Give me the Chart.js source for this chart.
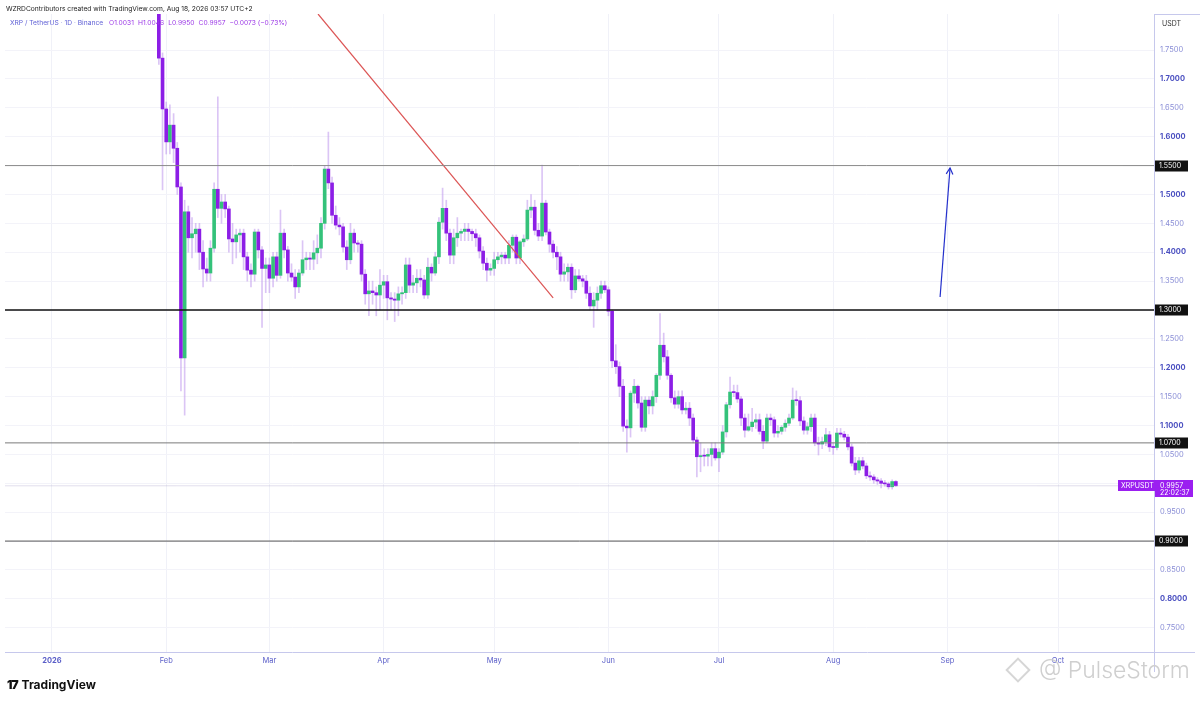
<!DOCTYPE html>
<html>
<head>
<meta charset="utf-8">
<script src="https://cdn.jsdelivr.net/npm/chart.js@4.4.1/dist/chart.umd.min.js"></script>
<style>
  html, body { margin: 0; padding: 0; background: #fff; }
  #wrap { position: relative; width: 1200px; height: 702px; font-family: Inter, "Open Sans", sans-serif; }
  #chart { position: absolute; left: 0; top: 0; }
  .txt { position: absolute; white-space: nowrap; pointer-events: none; }
  #hdr1 { left: 6px; top: 5px; font-size: 6.7px; color: #222; }
  #hdr2 { left: 10px; top: 19px; font-size: 6.7px; color: #6162d6; }
  #hdr2 span { color: #9a36e6; margin-left: 4px; }
  #unit { left: 1162px; top: 19px; font-size: 7px; color: #333; }
  #tvlogo { left: 7px; top: 677px; font-size: 12px; font-weight: 700; color: #111; }
  #tvlogo b { font-size: 12px; font-weight: 900; letter-spacing: -1px; margin-right: 4px; }
  #mark { left: 1003px; top: 656px; font-size: 23px; font-weight: 300; color: #cfcfcf; }
  #mark i { display: inline-block; width: 14px; height: 14px; border: 2px solid #d6d6d6; transform: rotate(45deg); margin: 0 12px 0 6px; vertical-align: -1px; }
</style>
</head>
<body>
<div id="wrap">
  <canvas id="chart" width="1200" height="702"></canvas>
  <div class="txt" id="hdr1">WZRDContributors created with TradingView.com, Aug 18, 2026 03:57 UTC+2</div>
  <div class="txt" id="hdr2">XRP / TetherUS · 1D · Binance <span>O1.0031</span><span>H1.0046</span><span>L0.9950</span><span>C0.9957</span><span>−0.0073 (−0.73%)</span></div>
  <div class="txt" id="unit">USDT</div>
  <div class="txt" id="tvlogo"><b>17</b>TradingView</div>
  <div class="txt" id="mark"><i></i>@ PulseStorm</div>
</div>
<script>
// daily candles, first one on Jan 30 2026 (day 29 counted from Jan 1)
const startDay = 29;

const opens = [
  1.825,1.736,1.648,1.591,1.620,1.580,1.513,1.217,1.470,1.425,
  1.432,1.440,1.400,1.371,1.364,1.407,1.509,1.476,1.487,1.475,
  1.423,1.418,1.430,1.433,1.392,1.369,1.362,1.435,1.404,1.372,
  1.378,1.355,1.392,1.360,1.433,1.404,1.364,1.357,1.340,1.364,
  1.387,1.390,1.388,1.399,1.407,1.450,1.544,1.520,1.464,1.447,
  1.444,1.409,1.387,1.433,1.416,1.414,1.362,1.328,1.333,1.330,
  1.326,1.343,1.349,1.321,1.319,1.317,1.328,1.330,1.378,1.343,
  1.347,1.355,1.352,1.326,1.374,1.364,1.392,1.452,1.476,1.433,
  1.395,1.425,1.433,1.436,1.440,1.436,1.432,1.425,1.402,1.381,
  1.369,1.372,1.387,1.392,1.395,1.390,1.412,1.426,1.390,1.418,
  1.423,1.473,1.478,1.438,1.428,1.485,1.435,1.414,1.400,1.392,
  1.362,1.366,1.374,1.335,1.359,1.354,1.350,1.329,1.307,1.317,
  1.329,1.342,1.335,1.298,1.212,1.202,1.168,1.099,1.096,1.156,
  1.168,1.139,1.097,1.144,1.134,1.150,1.187,1.239,1.219,1.187,
  1.148,1.137,1.150,1.127,1.130,1.113,1.075,1.046,1.048,1.047,
  1.050,1.060,1.044,1.054,1.089,1.136,1.158,1.157,1.146,1.113,
  1.092,1.098,1.106,1.110,1.090,1.073,1.113,1.110,1.087,1.090,
  1.097,1.104,1.113,1.144,1.143,1.108,1.092,1.098,1.113,1.070,
  1.068,1.072,1.084,1.063,1.062,1.087,1.085,1.080,1.063,1.035,
  1.023,1.039,1.030,1.013,1.011,1.006,1.004,1.000,0.999,0.994,
  1.0031
];
const highs = [
  1.860,1.745,1.660,1.655,1.640,1.590,1.520,1.490,1.480,1.460,
  1.450,1.450,1.420,1.390,1.420,1.520,1.669,1.500,1.500,1.480,
  1.450,1.440,1.440,1.440,1.400,1.380,1.440,1.440,1.410,1.390,
  1.390,1.400,1.400,1.473,1.440,1.410,1.380,1.370,1.370,1.420,
  1.400,1.400,1.420,1.430,1.460,1.550,1.608,1.530,1.480,1.460,
  1.450,1.420,1.450,1.440,1.420,1.420,1.370,1.350,1.350,1.340,
  1.370,1.360,1.360,1.330,1.330,1.340,1.340,1.390,1.390,1.360,
  1.370,1.370,1.360,1.390,1.380,1.400,1.460,1.511,1.490,1.440,
  1.440,1.460,1.440,1.450,1.450,1.440,1.440,1.430,1.410,1.390,
  1.380,1.400,1.400,1.400,1.400,1.420,1.430,1.430,1.420,1.430,
  1.490,1.500,1.490,1.450,1.551,1.490,1.440,1.420,1.410,1.400,
  1.380,1.380,1.380,1.370,1.370,1.360,1.360,1.340,1.330,1.340,
  1.350,1.350,1.340,1.300,1.240,1.210,1.180,1.110,1.160,1.180,
  1.170,1.150,1.150,1.150,1.160,1.190,1.294,1.260,1.230,1.190,
  1.160,1.160,1.160,1.140,1.140,1.120,1.080,1.070,1.060,1.060,
  1.070,1.070,1.060,1.100,1.140,1.184,1.170,1.170,1.150,1.120,
  1.120,1.130,1.120,1.120,1.100,1.120,1.120,1.115,1.100,1.100,
  1.110,1.120,1.165,1.160,1.150,1.115,1.105,1.120,1.120,1.080,
  1.080,1.095,1.090,1.070,1.095,1.095,1.090,1.085,1.068,1.045,
  1.045,1.045,1.035,1.020,1.015,1.010,1.008,1.005,1.002,1.006,
  1.0046
];
const lows = [
  1.725,1.508,1.570,1.570,1.555,1.500,1.160,1.118,1.400,1.390,
  1.400,1.370,1.340,1.350,1.350,1.400,1.460,1.450,1.460,1.400,
  1.380,1.390,1.400,1.370,1.350,1.340,1.350,1.390,1.270,1.330,
  1.330,1.340,1.350,1.355,1.390,1.350,1.350,1.320,1.330,1.360,
  1.370,1.370,1.370,1.380,1.390,1.440,1.510,1.450,1.440,1.430,
  1.400,1.370,1.380,1.400,1.400,1.350,1.310,1.290,1.310,1.290,
  1.300,1.320,1.283,1.300,1.280,1.290,1.310,1.320,1.330,1.330,
  1.330,1.340,1.320,1.320,1.350,1.360,1.380,1.440,1.420,1.380,
  1.380,1.410,1.420,1.420,1.420,1.420,1.410,1.390,1.370,1.350,
  1.360,1.360,1.380,1.380,1.380,1.380,1.400,1.380,1.380,1.410,
  1.420,1.460,1.430,1.420,1.420,1.430,1.400,1.390,1.370,1.350,
  1.350,1.350,1.320,1.330,1.350,1.340,1.320,1.300,1.270,1.300,
  1.320,1.330,1.290,1.200,1.190,1.150,1.090,1.054,1.080,1.140,
  1.130,1.090,1.090,1.120,1.120,1.140,1.180,1.210,1.180,1.140,
  1.130,1.130,1.120,1.120,1.100,1.070,1.011,1.020,1.030,1.030,
  1.030,1.040,1.020,1.050,1.080,1.130,1.150,1.140,1.100,1.080,
  1.090,1.090,1.095,1.085,1.060,1.070,1.100,1.080,1.080,1.085,
  1.090,1.100,1.110,1.135,1.100,1.085,1.085,1.090,1.065,1.049,
  1.060,1.065,1.055,1.050,1.058,1.080,1.075,1.058,1.030,1.015,
  1.018,1.025,1.008,1.005,1.000,0.998,0.992,0.995,0.990,0.990,
  0.9950
];
const closes = [
  1.736,1.648,1.591,1.620,1.580,1.513,1.217,1.470,1.425,1.432,
  1.440,1.400,1.371,1.364,1.407,1.509,1.476,1.487,1.475,1.423,
  1.418,1.430,1.433,1.392,1.369,1.362,1.435,1.404,1.372,1.378,
  1.355,1.392,1.360,1.433,1.404,1.364,1.357,1.340,1.364,1.387,
  1.390,1.388,1.399,1.407,1.450,1.544,1.520,1.464,1.447,1.444,
  1.409,1.387,1.433,1.416,1.414,1.362,1.328,1.333,1.330,1.326,
  1.343,1.349,1.321,1.319,1.317,1.328,1.330,1.378,1.343,1.347,
  1.355,1.352,1.326,1.374,1.364,1.392,1.452,1.476,1.433,1.395,
  1.425,1.433,1.436,1.440,1.436,1.432,1.425,1.402,1.381,1.369,
  1.372,1.387,1.392,1.395,1.390,1.412,1.426,1.390,1.418,1.423,
  1.473,1.478,1.438,1.428,1.485,1.435,1.414,1.400,1.392,1.362,
  1.366,1.374,1.335,1.359,1.354,1.350,1.329,1.307,1.317,1.329,
  1.342,1.335,1.298,1.212,1.202,1.168,1.099,1.096,1.156,1.168,
  1.139,1.097,1.144,1.134,1.150,1.187,1.239,1.219,1.187,1.148,
  1.137,1.150,1.127,1.130,1.113,1.075,1.046,1.048,1.047,1.050,
  1.060,1.044,1.054,1.089,1.136,1.158,1.157,1.146,1.113,1.092,
  1.098,1.106,1.110,1.090,1.073,1.113,1.110,1.087,1.090,1.097,
  1.104,1.113,1.144,1.143,1.108,1.092,1.098,1.113,1.070,1.068,
  1.072,1.084,1.063,1.062,1.087,1.085,1.080,1.063,1.035,1.023,
  1.039,1.030,1.013,1.011,1.006,1.004,1.000,0.999,0.994,1.003,
  0.9957
];

// axis ticks
const monthDays = [0, 31, 59, 90, 120, 151, 181, 212, 243, 273];
const monthLabels = ["2026", "Feb", "Mar", "Apr", "May", "Jun", "Jul", "Aug", "Sep", "Oct"];
const yTicks = [0.75,0.80,0.85,0.90,0.95,1.00,1.05,1.10,1.15,1.20,1.25,1.30,1.35,1.40,1.45,1.50,1.55,1.60,1.65,1.70,1.75];

// drawings
const levelPrices = [1.55, 1.30, 1.07, 0.90];
const levelColors = ["#8a8a8a", "#111111", "#7a7a7a", "#555555"];
const lastPrice = 0.9957;
const trendX = [72.2, 136.0];
const trendY = [1.8124, 1.3208];
const arrowX = [241.0, 243.7];
const arrowY = [1.3225, 1.5458];

const xMin = -12.75, xMax = 299.05;
const yMin = 0.708, yMax = 1.8124;

const upColor = "#34c27a";
const downColor = "#8c1ee6";
const wickColor = "rgba(190,150,236,0.55)";

const bodyData = opens.map((o, i) => ({ x: startDay + i, y: [o, closes[i]] }));
const wickData = highs.map((h, i) => ({ x: startDay + i, y: [lows[i], h] }));
const bodyColors = opens.map((o, i) => (closes[i] >= o ? upColor : downColor));

const levelSets = levelPrices.map((p, i) => ({
  type: "line",
  data: [{ x: xMin, y: p }, { x: xMax, y: p }],
  borderColor: levelColors[i],
  borderWidth: p === 1.30 ? 1.4 : 1,
  pointRadius: 0,
  order: 0,
}));

const labelsPlugin = {
  id: "labels",
  afterDraw(chart) {
    const { ctx, chartArea, scales } = chart;
    const y = scales.y;
    ctx.save();
    // axis frame bits outside the plot
    ctx.strokeStyle = "#c6c8ec";
    ctx.lineWidth = 1;
    ctx.beginPath();
    ctx.moveTo(chartArea.right + 0.5, chartArea.top);
    ctx.lineTo(chartArea.right + 0.5, chartArea.bottom + 20);
    ctx.moveTo(chartArea.right, chartArea.top + 0.5);
    ctx.lineTo(chart.width, chartArea.top + 0.5);
    ctx.moveTo(chartArea.right, chartArea.bottom + 0.5);
    ctx.lineTo(1195, chartArea.bottom + 0.5);
    ctx.stroke();

    // arrow head
    const am = chart.getDatasetMeta(chart.data.datasets.findIndex(d => d.label === "arrow"));
    const p0 = am.data[0], p1 = am.data[1];
    const ang = Math.atan2(p1.y - p0.y, p1.x - p0.x);
    ctx.strokeStyle = "#2430cc";
    ctx.lineWidth = 1.2;
    ctx.beginPath();
    ctx.moveTo(p1.x - 7 * Math.cos(ang - 0.5), p1.y - 7 * Math.sin(ang - 0.5));
    ctx.lineTo(p1.x, p1.y);
    ctx.lineTo(p1.x - 7 * Math.cos(ang + 0.5), p1.y - 7 * Math.sin(ang + 0.5));
    ctx.stroke();

    // level boxes on the price axis
    ctx.font = "7px Inter";
    ctx.textBaseline = "middle";
    levelPrices.forEach(p => {
      const py = Math.round(y.getPixelForValue(p));
      ctx.fillStyle = "#111";
      ctx.fillRect(chartArea.right + 1, py - 5.5, 33, 11);
      ctx.fillStyle = "#fff";
      ctx.fillText(p.toFixed(4), chartArea.right + 5, py);
    });

    // last price tag
    const ly = Math.round(y.getPixelForValue(lastPrice));
    ctx.fillStyle = "#9b1ff0";
    ctx.fillRect(chartArea.right - 36, ly - 6, 37, 11);
    ctx.fillRect(chartArea.right + 1, ly - 6, 38, 17);
    ctx.fillStyle = "#fff";
    ctx.fillText("XRPUSDT", chartArea.right - 33, ly - 0.5);
    ctx.fillText(lastPrice.toFixed(4), chartArea.right + 6, ly - 0.5);
    ctx.fillText("22:02:37", chartArea.right + 6, ly + 6.5);
    ctx.restore();
  },
};

new Chart(document.getElementById("chart"), {
  type: "bar",
  data: {
    datasets: [
      ...levelSets,
      {
        type: "line",
        data: [{ x: xMin, y: lastPrice }, { x: xMax, y: lastPrice }],
        borderColor: "rgba(170,160,200,0.35)",
        borderWidth: 1,
        pointRadius: 0,
        order: 0,
      },
      {
        type: "line",
        label: "trend",
        data: trendX.map((x, i) => ({ x: x, y: trendY[i] })),
        borderColor: "#dc5555",
        borderWidth: 1.2,
        pointRadius: 0,
        order: 0,
      },
      {
        type: "line",
        label: "arrow",
        data: arrowX.map((x, i) => ({ x: x, y: arrowY[i] })),
        borderColor: "#2430cc",
        borderWidth: 1.2,
        pointRadius: 0,
        order: 0,
      },
      {
        label: "body",
        data: bodyData,
        backgroundColor: bodyColors,
        barThickness: 3,
        minBarLength: 1,
        grouped: false,
        order: 1,
      },
      {
        label: "wick",
        data: wickData,
        backgroundColor: wickColor,
        barThickness: 1,
        grouped: false,
        order: 2,
      },
    ],
  },
  options: {
    responsive: false,
    animation: false,
    layout: { padding: { left: 5, top: 14, right: 0, bottom: 0 } },
    plugins: { legend: { display: false }, tooltip: { enabled: false } },
    scales: {
      x: {
        type: "linear",
        min: xMin,
        max: xMax,
        offset: false,
        afterBuildTicks: a => { a.ticks = monthDays.map(v => ({ value: v })); },
        afterFit: a => { a.height = 50; },
        ticks: {
          autoSkip: false,
          maxRotation: 0,
          padding: 4,
          color: "#5a5ec8",
          font: c => ({ size: 7.5, family: "Inter", weight: c.tick && c.tick.value === 0 ? "bold" : "normal" }),
          callback: (v, i) => monthLabels[i],
        },
        grid: { color: "#f0f1f8", drawTicks: false, offset: false },
        border: { color: "#c6c8ec" },
      },
      y: {
        position: "right",
        min: yMin,
        max: yMax,
        afterBuildTicks: a => { a.ticks = yTicks.map(v => ({ value: v })); },
        afterFit: a => { a.width = 46; },
        ticks: {
          padding: 6,
          color: c => (c.tick && Math.round(c.tick.value * 100) % 10 === 0 ? "#4a4fc0" : "#8a8ed6"),
          font: c => ({ size: 7.5, family: "Inter", weight: c.tick && Math.round(c.tick.value * 100) % 10 === 0 ? "bold" : "normal" }),
          callback: v => v.toFixed(4),
        },
        grid: { color: "#f3f3f9", drawTicks: false },
        border: { color: "#c6c8ec" },
      },
    },
  },
  plugins: [labelsPlugin],
});
</script>
</body>
</html>
